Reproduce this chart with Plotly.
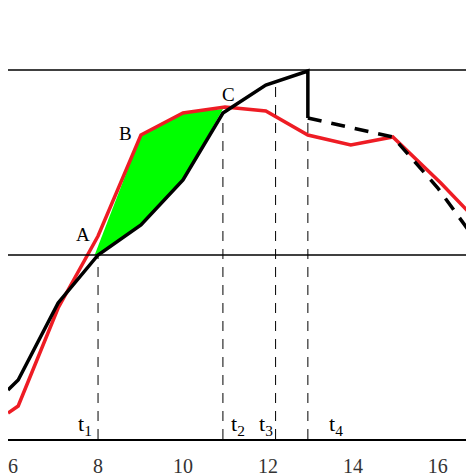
import plotly.graph_objects as go

red_x = [5.88, 6.12, 7.06, 8.0, 9.01, 10.0, 10.99, 11.95, 12.94, 13.95, 14.94, 16.07, 17.04]
red_y = [26, 33, 131, 203, 304, 326, 332, 328, 304, 294, 302, 256, 213]
blk_x = [5.88, 6.12, 7.06, 8.0, 9.01, 10.0, 10.94, 11.95, 12.94, 12.94]
blk_y = [49, 59, 136, 184, 214, 259, 326, 354, 368, 321]
dash_x = [12.94, 14.94, 16.0, 16.94]
dash_y = [321, 302, 251, 196]
green_x = [8.0, 9.01, 10.0, 10.94, 10.0, 9.01, 7.92]
green_y = [184, 214, 259, 330, 326, 304, 184]
vlines = [(8.0, 184), (10.94, 326), (12.18, 352), (12.94, 321)]
hlines = [184, 369]
tlabels = [("t", "1", 7.7), ("t", "2", 11.3), ("t", "3", 11.95), ("t", "4", 13.6)]
points = [("A", 7.65, 205), ("B", 8.65, 306), ("C", 11.08, 345)]

fig = go.Figure()
fig.add_trace(go.Scatter(x=green_x, y=green_y, fill="toself", fillcolor="#00ff00",
                         line=dict(width=0), mode="lines"))
for x, top in vlines:
    fig.add_trace(go.Scatter(x=[x, x], y=[0, top], mode="lines",
                             line=dict(color="black", width=1, dash="10px,8px")))
fig.add_trace(go.Scatter(x=red_x, y=red_y, mode="lines", line=dict(color="#ee1c24", width=3.5)))
fig.add_trace(go.Scatter(x=blk_x, y=blk_y, mode="lines", line=dict(color="black", width=3.5)))
fig.add_trace(go.Scatter(x=dash_x, y=dash_y, mode="lines",
                         line=dict(color="black", width=3.5, dash="14px,10px")))
for h in hlines:
    fig.add_hline(y=h, line=dict(color="black", width=1.5))
for t, sub, x in tlabels:
    fig.add_annotation(x=x, y=14, text=f"{t}<sub>{sub}</sub>", showarrow=False,
                       font=dict(size=22, family="Liberation Serif", color="black"))
for t, x, y in points:
    fig.add_annotation(x=x, y=y, text=t, showarrow=False,
                       font=dict(size=19, family="Liberation Serif", color="black"))

fig.update_layout(width=474, height=474, margin=dict(l=0, r=0, t=0, b=43),
                  plot_bgcolor="white", paper_bgcolor="white", showlegend=False,
                  font=dict(family="Liberation Serif", size=20, color="#333"))
fig.update_xaxes(range=[5.88, 17.04], tickvals=[6, 8, 10, 12, 14, 16], showgrid=False,
                 zeroline=False, showline=True, linecolor="black", linewidth=1.5, ticks="",
                 automargin=False, ticklabelstandoff=8)
fig.update_yaxes(range=[0, 431], visible=False, automargin=False)
fig.write_html("out.html")
